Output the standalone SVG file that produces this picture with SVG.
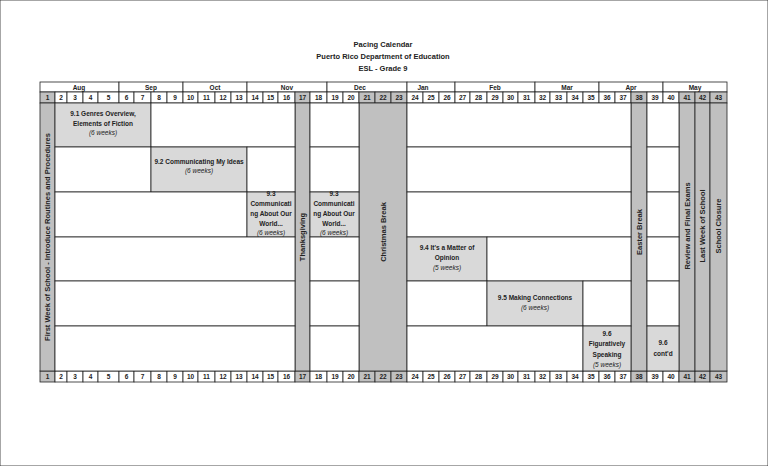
<svg xmlns="http://www.w3.org/2000/svg" width="768" height="466" viewBox="0 0 768 466">
<style>
text{font-family:"Liberation Sans",Arial,sans-serif;font-weight:bold;fill:#222}
.t{font-size:7.5px;text-anchor:middle}
.n{font-size:6.5px;text-anchor:middle}
.b{font-size:6.5px;text-anchor:middle}
.i{font-style:italic;font-weight:normal}
.v{font-size:7.5px;text-anchor:middle}
rect{stroke:#222;stroke-width:0.8}
.w{fill:#fff}.g{fill:#c0c0c0}.l{fill:#d9d9d9}
</style>
<rect x="0" y="0" width="768" height="466" fill="#fff" stroke="none"/>
<g id="title">
<text class="t" x="383" y="47">Pacing Calendar</text>
<text class="t" x="383" y="59">Puerto Rico Department of Education</text>
<text class="t" x="383" y="71">ESL - Grade 9</text>
</g>
<g id="months">
<rect class="w" x="40" y="82" width="79" height="10"/><text class="n" x="79" y="89.5">Aug</text>
<rect class="w" x="119" y="82" width="64" height="10"/><text class="n" x="151" y="89.5">Sep</text>
<rect class="w" x="183" y="82" width="64" height="10"/><text class="n" x="215" y="89.5">Oct</text>
<rect class="w" x="247" y="82" width="80" height="10"/><text class="n" x="287" y="89.5">Nov</text>
<rect class="w" x="327" y="82" width="80" height="10"/><text class="n" x="360" y="89.5">Dec</text>
<rect class="w" x="407" y="82" width="48" height="10"/><text class="n" x="423" y="89.5">Jan</text>
<rect class="w" x="455" y="82" width="80" height="10"/><text class="n" x="495" y="89.5">Feb</text>
<rect class="w" x="535" y="82" width="64" height="10"/><text class="n" x="567" y="89.5">Mar</text>
<rect class="w" x="599" y="82" width="64" height="10"/><text class="n" x="631" y="89.5">Apr</text>
<rect class="w" x="663" y="82" width="64" height="10"/><text class="n" x="695" y="89.5">May</text>
</g>
<g id="weeks-top">
<rect class="g" x="40" y="92" width="15" height="11"/><text class="b" x="47.5" y="100">1</text>
<rect class="w" x="55" y="92" width="12" height="11"/><text class="b" x="61" y="100">2</text>
<rect class="w" x="67" y="92" width="16" height="11"/><text class="b" x="75" y="100">3</text>
<rect class="w" x="83" y="92" width="15" height="11"/><text class="b" x="90.5" y="100">4</text>
<rect class="w" x="98" y="92" width="21" height="11"/><text class="b" x="108.5" y="100">5</text>
<rect class="w" x="119" y="92" width="15" height="11"/><text class="b" x="126.5" y="100">6</text>
<rect class="w" x="134" y="92" width="17" height="11"/><text class="b" x="142.5" y="100">7</text>
<rect class="w" x="151" y="92" width="16" height="11"/><text class="b" x="159" y="100">8</text>
<rect class="w" x="167" y="92" width="16" height="11"/><text class="b" x="175" y="100">9</text>
<rect class="w" x="183" y="92" width="15" height="11"/><text class="b" x="190.5" y="100">10</text>
<rect class="w" x="198" y="92" width="17" height="11"/><text class="b" x="206.5" y="100">11</text>
<rect class="w" x="215" y="92" width="16" height="11"/><text class="b" x="223" y="100">12</text>
<rect class="w" x="231" y="92" width="16" height="11"/><text class="b" x="239" y="100">13</text>
<rect class="w" x="247" y="92" width="16" height="11"/><text class="b" x="255" y="100">14</text>
<rect class="w" x="263" y="92" width="15" height="11"/><text class="b" x="270.5" y="100">15</text>
<rect class="w" x="278" y="92" width="17" height="11"/><text class="b" x="286.5" y="100">16</text>
<rect class="g" x="295" y="92" width="15" height="11"/><text class="b" x="302.5" y="100">17</text>
<rect class="w" x="310" y="92" width="17" height="11"/><text class="b" x="318.5" y="100">18</text>
<rect class="w" x="327" y="92" width="16" height="11"/><text class="b" x="335" y="100">19</text>
<rect class="w" x="343" y="92" width="16" height="11"/><text class="b" x="351" y="100">20</text>
<rect class="g" x="359" y="92" width="16" height="11"/><text class="b" x="367" y="100">21</text>
<rect class="g" x="375" y="92" width="16" height="11"/><text class="b" x="383" y="100">22</text>
<rect class="g" x="391" y="92" width="16" height="11"/><text class="b" x="399" y="100">23</text>
<rect class="w" x="407" y="92" width="16" height="11"/><text class="b" x="415" y="100">24</text>
<rect class="w" x="423" y="92" width="16" height="11"/><text class="b" x="431" y="100">25</text>
<rect class="w" x="439" y="92" width="16" height="11"/><text class="b" x="447" y="100">26</text>
<rect class="w" x="455" y="92" width="15" height="11"/><text class="b" x="462.5" y="100">27</text>
<rect class="w" x="470" y="92" width="17" height="11"/><text class="b" x="478.5" y="100">28</text>
<rect class="w" x="487" y="92" width="16" height="11"/><text class="b" x="495" y="100">29</text>
<rect class="w" x="503" y="92" width="15" height="11"/><text class="b" x="510.5" y="100">30</text>
<rect class="w" x="518" y="92" width="17" height="11"/><text class="b" x="526.5" y="100">31</text>
<rect class="w" x="535" y="92" width="15" height="11"/><text class="b" x="542.5" y="100">32</text>
<rect class="w" x="550" y="92" width="17" height="11"/><text class="b" x="558.5" y="100">33</text>
<rect class="w" x="567" y="92" width="16" height="11"/><text class="b" x="575" y="100">34</text>
<rect class="w" x="583" y="92" width="16" height="11"/><text class="b" x="591" y="100">35</text>
<rect class="w" x="599" y="92" width="16" height="11"/><text class="b" x="607" y="100">36</text>
<rect class="w" x="615" y="92" width="16" height="11"/><text class="b" x="623" y="100">37</text>
<rect class="g" x="631" y="92" width="16" height="11"/><text class="b" x="639" y="100">38</text>
<rect class="w" x="647" y="92" width="16" height="11"/><text class="b" x="655" y="100">39</text>
<rect class="w" x="663" y="92" width="16" height="11"/><text class="b" x="671" y="100">40</text>
<rect class="g" x="679" y="92" width="16" height="11"/><text class="b" x="687" y="100">41</text>
<rect class="g" x="695" y="92" width="15" height="11"/><text class="b" x="702.5" y="100">42</text>
<rect class="g" x="710" y="92" width="17" height="11"/><text class="b" x="718.5" y="100">43</text>
</g>
<use href="#weeks-top" y="279"/>
<g id="breaks">
<rect class="g" x="40" y="103" width="15" height="268"/>
<text class="v" transform="translate(50,237) rotate(-90)">First Week of School - Introduce Routines and Procedures</text>
<rect class="g" x="295" y="103" width="15" height="268"/>
<text class="v" transform="translate(305,237) rotate(-90)">Thanksgiving</text>
<rect class="g" x="359" y="103" width="48" height="268"/>
<text class="v" transform="translate(386,232) rotate(-90)">Christmas Break</text>
<rect class="g" x="631" y="103" width="16" height="268"/>
<text class="v" transform="translate(642,232) rotate(-90)">Easter Break</text>
<rect class="g" x="679" y="103" width="16" height="268"/>
<text class="v" transform="translate(690,226) rotate(-90)">Review and Final Exams</text>
<rect class="g" x="695" y="103" width="15" height="268"/>
<text class="v" transform="translate(705,226) rotate(-90)">Last Week of School</text>
<rect class="g" x="710" y="103" width="17" height="268"/>
<text class="v" transform="translate(721,226) rotate(-90)">School Closure</text>
</g>
<g id="row1">
<rect class="l" x="55" y="103" width="96" height="44"/>
<rect class="w" x="151" y="103" width="144" height="44"/>
<rect class="w" x="310" y="103" width="49" height="44"/>
<rect class="w" x="407" y="103" width="224" height="44"/>
<rect class="w" x="647" y="103" width="32" height="44"/>
</g>
<g id="row2">
<rect class="w" x="55" y="147" width="96" height="45"/>
<rect class="l" x="151" y="147" width="96" height="45"/>
<rect class="w" x="247" y="147" width="48" height="45"/>
<rect class="w" x="310" y="147" width="49" height="45"/>
<rect class="w" x="407" y="147" width="224" height="45"/>
<rect class="w" x="647" y="147" width="32" height="45"/>
</g>
<g id="row3">
<rect class="w" x="55" y="192" width="192" height="45"/>
<rect class="l" x="247" y="192" width="48" height="45"/>
<rect class="l" x="310" y="192" width="49" height="45"/>
<rect class="w" x="407" y="192" width="224" height="45"/>
<rect class="w" x="647" y="192" width="32" height="45"/>
</g>
<g id="row4">
<rect class="w" x="55" y="237" width="240" height="44"/>
<rect class="w" x="310" y="237" width="49" height="44"/>
<rect class="l" x="407" y="237" width="80" height="44"/>
<rect class="w" x="487" y="237" width="144" height="44"/>
<rect class="w" x="647" y="237" width="32" height="44"/>
</g>
<g id="row5">
<rect class="w" x="55" y="281" width="240" height="45"/>
<rect class="w" x="310" y="281" width="49" height="45"/>
<rect class="w" x="407" y="281" width="80" height="45"/>
<rect class="l" x="487" y="281" width="96" height="45"/>
<rect class="w" x="583" y="281" width="48" height="45"/>
<rect class="w" x="647" y="281" width="32" height="45"/>
</g>
<g id="row6">
<rect class="w" x="55" y="326" width="240" height="45"/>
<rect class="w" x="310" y="326" width="49" height="45"/>
<rect class="w" x="407" y="326" width="176" height="45"/>
<rect class="l" x="583" y="326" width="48" height="45"/>
<rect class="l" x="647" y="326" width="32" height="45"/>
</g>
<g id="units">
<text class="b" x="103" y="116">9.1 Genres Overview,</text>
<text class="b" x="103" y="126">Elements of Fiction</text>
<text class="b i" x="103" y="135">(6 weeks)</text>
<text class="b" x="199" y="164">9.2 Communicating My Ideas</text>
<text class="b i" x="199" y="173">(6 weeks)</text>
<text class="b" x="271" y="196">9.3</text>
<text class="b" x="271" y="206">Communicati</text>
<text class="b" x="271" y="216">ng About Our</text>
<text class="b" x="271" y="226">World...</text>
<text class="b i" x="271" y="235">(6 weeks)</text>
<text class="b" x="334" y="196">9.3</text>
<text class="b" x="334" y="206">Communicati</text>
<text class="b" x="334" y="216">ng About Our</text>
<text class="b" x="334" y="226">World...</text>
<text class="b i" x="334" y="235">(6 weeks)</text>
<text class="b" x="447" y="250">9.4 It's a Matter of</text>
<text class="b" x="447" y="260">Opinion</text>
<text class="b i" x="447" y="270">(5 weeks)</text>
<text class="b" x="535" y="300">9.5 Making Connections</text>
<text class="b i" x="535" y="310">(6 weeks)</text>
<text class="b" x="607" y="336">9.6</text>
<text class="b" x="607" y="346">Figuratively</text>
<text class="b" x="607" y="357">Speaking</text>
<text class="b i" x="607" y="367">(5 weeks)</text>
<text class="b" x="663" y="345">9.6</text>
<text class="b" x="663" y="356">cont'd</text>
</g>
</svg>
